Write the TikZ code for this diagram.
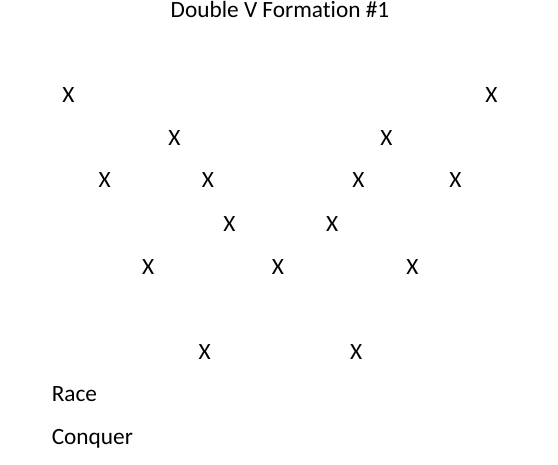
\documentclass[tikz,border=0pt]{standalone}
\usepackage{fontspec}
\setmainfont[RawFeature=-liga]{Carlito}
\begin{document}
\begin{tikzpicture}[x=1pt,y=-1pt,
  txt/.style={inner sep=0pt,outer sep=0pt,font=\fontsize{23.3}{27}\selectfont},
  player/.style={txt,anchor=center}]
\useasboundingbox[fill=white] (0,0) rectangle (558,465);
\node[txt,anchor=base] (title) at (280,17.3) {Double V Formation \#1};
\node[player] (p1) at (68.4,94.6) {X};
\node[player] (p2) at (491.5,94.6) {X};
\node[player] (p3) at (174.3,138) {X};
\node[player] (p4) at (386.5,138) {X};
\node[player] (p5) at (104.6,180.5) {X};
\node[player] (p6) at (207.9,180.5) {X};
\node[player] (p7) at (358.5,180.5) {X};
\node[player] (p8) at (455.3,180.5) {X};
\node[player] (p9) at (229.3,224) {X};
\node[player] (p10) at (332.1,224) {X};
\node[player] (p11) at (148.2,266.7) {X};
\node[player] (p12) at (277.9,266.7) {X};
\node[player] (p13) at (412.3,266.7) {X};
\node[player] (p14) at (204.6,352) {X};
\node[player] (p15) at (356.2,352) {X};
\node[txt,anchor=base west] (race) at (51.8,401.7) {Race};
\node[txt,anchor=base west] (conquer) at (51.8,445) {Conquer};
\end{tikzpicture}
\end{document}
